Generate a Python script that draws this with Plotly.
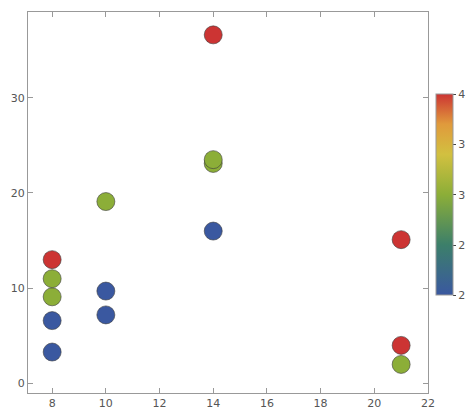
import plotly.graph_objects as go

x = [8, 8, 8, 8, 8, 10, 10, 10, 14, 14, 14, 14, 21, 21, 21]
y = [3.3, 6.6, 9.1, 11.0, 13.0, 7.2, 9.7, 19.1, 16.0, 23.1, 23.5, 36.6, 2.0, 4.0, 15.1]
c = [2, 2, 3, 3, 4, 2, 2, 3, 2, 3, 3, 4, 3, 4, 4]

scale = [[0, "#3a58a0"], [0.25, "#3c7f6a"], [0.5, "#8cae38"], [0.7, "#d2c040"],
         [0.85, "#e09a3c"], [1, "#cc3433"]]

fig = go.Figure(go.Scatter(
    x=x, y=y, mode="markers",
    marker=dict(size=18, color=c, cmin=2, cmax=4, colorscale=scale,
                line=dict(color="rgba(60,60,60,0.6)", width=1),
                colorbar=dict(thickness=17, len=0.58, y=0.52, x=1.02, xpad=0,
                              tickvals=[2, 2.5, 3, 3.5, 4],
                              ticktext=["2.0", "2.5", "3.0", "3.5", "4.0"],
                              ticks="outside", ticklen=3, outlinewidth=1,
                              outlinecolor="#999", tickfont=dict(size=11, color="#555"))),
))
ax = dict(showgrid=False, zeroline=False, showline=True, mirror="ticks", linecolor="#999",
          ticks="inside", ticklen=5, tickcolor="#999", tickfont=dict(size=11, color="#555"))
fig.update_layout(
    width=474, height=407, margin=dict(l=16, r=54, t=3, b=22),
    plot_bgcolor="white", paper_bgcolor="white", showlegend=False,
    font=dict(family="DejaVu Sans"),
    xaxis=dict(range=[7.1, 22], tickvals=[8, 10, 12, 14, 16, 18, 20, 22], **ax),
    yaxis=dict(range=[-1, 39], tickvals=[0, 10, 20, 30], **ax),
)
fig.write_html("out.html")
